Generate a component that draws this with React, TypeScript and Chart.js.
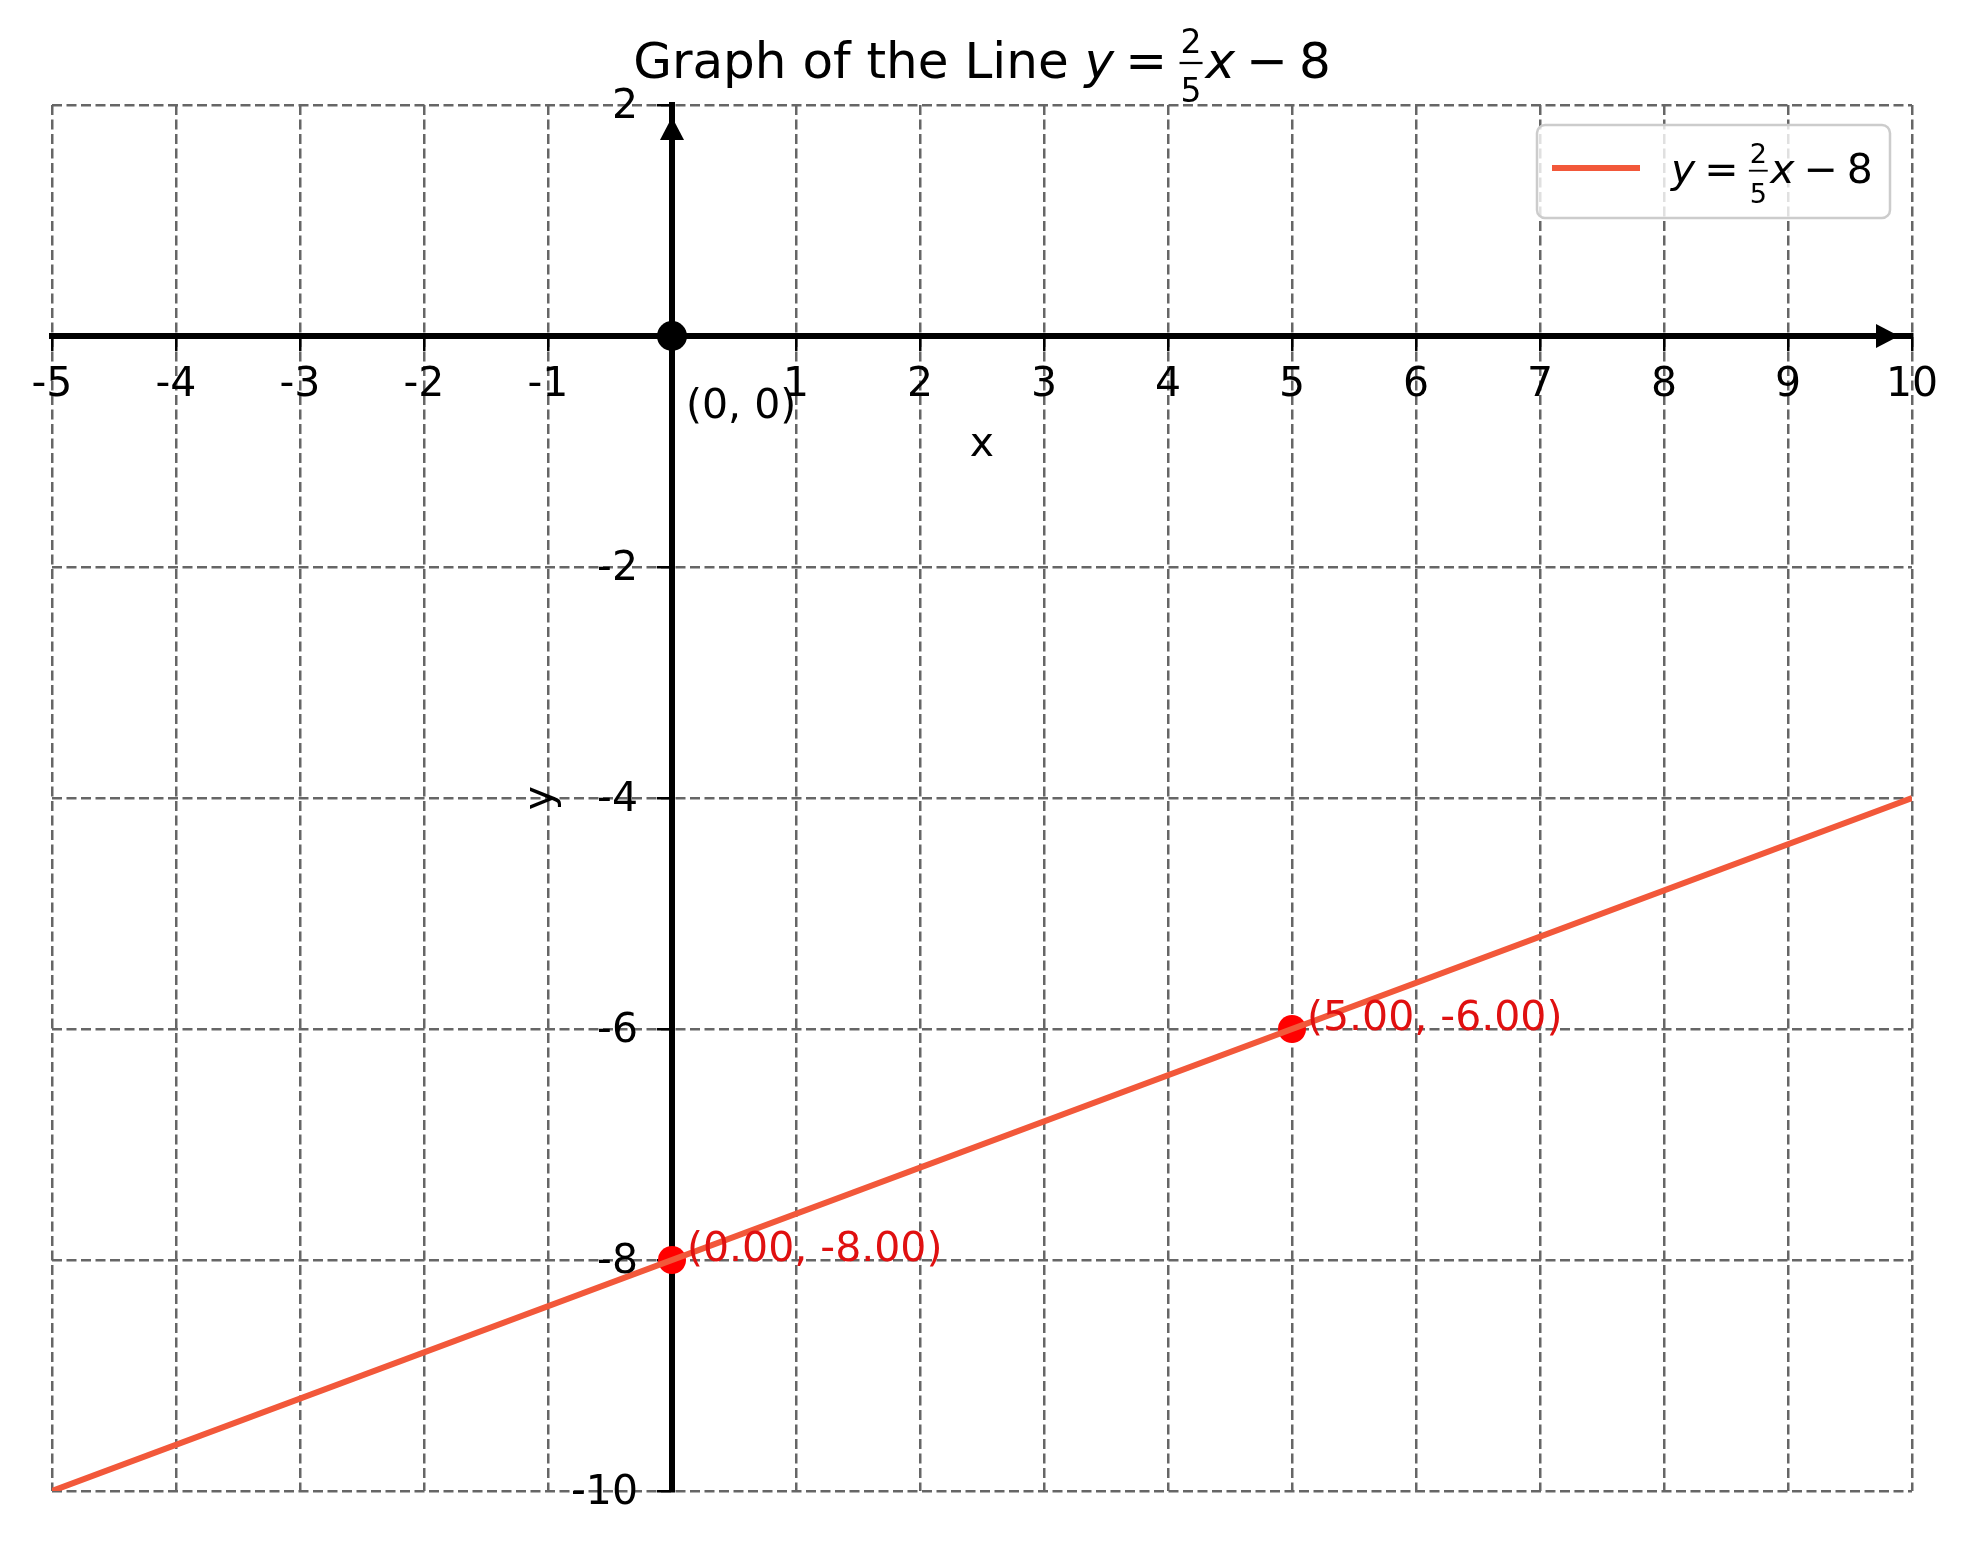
import React, { useEffect, useRef } from 'react';
import { Chart, registerables } from 'chart.js';

Chart.register(...registerables);

// ---- data ----
const xMin = -5;
const xMax = 10;
const yMin = -10;
const yMax = 2;
const xStep = 1;
const yStep = 2;
const lineX = [-5, 10];
const lineY = [-10, -4];
const markedX = [0, 5];
const markedY = [-8, -6];
const markedLabels = ['(0.00, -8.00)', '(5.00, -6.00)'];
const originX = [0];
const originY = [0];
const originLabels = ['(0, 0)'];
const titlePrefix = 'Graph of the Line ';
const slopeNum = '2';
const slopeDen = '5';
const interceptText = '8';
const xAxisLabel = 'x';
const yAxisLabel = 'y';

// ---- styles ----
const FAM = '"DejaVu Sans", "Liberation Sans", sans-serif';
const LINE_COLOR = '#F2583A';
const POINT_COLOR = '#FF0000';
const ANNOT_COLOR = '#E01010';
const GRID_COLOR = '#666666';
const TICK_FONT = 41;

function mathParts(ctx: CanvasRenderingContext2D, size: number) {
  const g = 0.22 * size;
  const small = 0.66 * size;
  ctx.font = `italic ${size}px ${FAM}`;
  const wy = ctx.measureText('y').width;
  const wx = ctx.measureText('x').width;
  ctx.font = `${size}px ${FAM}`;
  const weq = ctx.measureText('=').width;
  const wmin = ctx.measureText('\u2212').width;
  const w8 = ctx.measureText(interceptText).width;
  ctx.font = `${small}px ${FAM}`;
  const wd = Math.max(ctx.measureText(slopeNum).width, ctx.measureText(slopeDen).width);
  const wf = wd + 0.1 * size;
  const total = wy + g + weq + g + wf + 0.03 * size + wx + g + wmin + g + w8;
  return { g, small, wy, wx, weq, wmin, w8, wd, wf, total };
}

function drawMath(ctx: CanvasRenderingContext2D, x0: number, base: number, size: number, color: string) {
  const p = mathParts(ctx, size);
  ctx.save();
  ctx.fillStyle = color;
  ctx.strokeStyle = color;
  ctx.textBaseline = 'alphabetic';
  ctx.textAlign = 'left';
  let x = x0;
  ctx.font = `italic ${size}px ${FAM}`;
  ctx.fillText('y', x, base);
  x += p.wy + p.g;
  ctx.font = `${size}px ${FAM}`;
  ctx.fillText('=', x, base);
  x += p.weq + p.g;
  // fraction
  const cx = x + p.wf / 2;
  ctx.font = `${p.small}px ${FAM}`;
  ctx.textAlign = 'center';
  ctx.fillText(slopeNum, cx, base - 0.5 * size);
  ctx.fillText(slopeDen, cx, base + 0.48 * size);
  ctx.lineWidth = Math.max(1.5, 0.045 * size);
  ctx.beginPath();
  ctx.moveTo(x + 0.03 * size, base - 0.3 * size);
  ctx.lineTo(x + p.wf - 0.03 * size, base - 0.3 * size);
  ctx.stroke();
  ctx.textAlign = 'left';
  x += p.wf + 0.03 * size;
  ctx.font = `italic ${size}px ${FAM}`;
  ctx.fillText('x', x, base);
  x += p.wx + p.g;
  ctx.font = `${size}px ${FAM}`;
  ctx.fillText('\u2212', x, base);
  x += p.wmin + p.g;
  ctx.fillText(interceptText, x, base);
  ctx.restore();
  return p.total;
}

const overlayPlugin = {
  id: 'overlay',
  afterDraw(chart: any) {
    const ctx: CanvasRenderingContext2D = chart.ctx;
    const area = chart.chartArea;
    const xs = chart.scales.x;
    const ys = chart.scales.y;
    const x0 = xs.getPixelForValue(0);
    const y0 = ys.getPixelForValue(0);
    ctx.save();

    // y tick labels, left of the centred y spine
    ctx.font = `${TICK_FONT}px ${FAM}`;
    ctx.fillStyle = '#000';
    ctx.textAlign = 'right';
    ctx.textBaseline = 'middle';
    ys.ticks.forEach((t: any) => {
      if (t.value === 0) return;
      ctx.fillText(String(t.value), x0 - 34, ys.getPixelForValue(t.value) + 2);
    });

    // arrowheads
    ctx.fillStyle = '#000';
    const tipTop = area.top + 12;
    ctx.beginPath();
    ctx.moveTo(x0, tipTop);
    ctx.lineTo(x0 - 12, tipTop + 23);
    ctx.lineTo(x0 + 12, tipTop + 23);
    ctx.closePath();
    ctx.fill();
    const tipRight = area.right - 13;
    ctx.beginPath();
    ctx.moveTo(tipRight, y0);
    ctx.lineTo(tipRight - 23, y0 - 12);
    ctx.lineTo(tipRight - 23, y0 + 12);
    ctx.closePath();
    ctx.fill();

    // annotations of marked points
    const meta1 = chart.getDatasetMeta(1);
    ctx.font = `41px ${FAM}`;
    ctx.fillStyle = ANNOT_COLOR;
    ctx.textAlign = 'left';
    ctx.textBaseline = 'alphabetic';
    meta1.data.forEach((el: any, i: number) => {
      ctx.fillText(markedLabels[i], el.x + 15, el.y + 1);
    });
    const meta2 = chart.getDatasetMeta(2);
    ctx.font = `41px ${FAM}`;
    ctx.fillStyle = '#000';
    meta2.data.forEach((el: any, i: number) => {
      ctx.fillText(originLabels[i], el.x + 14, el.y + 82);
    });

    // axis labels
    const cxArea = (area.left + area.right) / 2;
    const cyArea = (area.top + area.bottom) / 2;
    ctx.font = `41px ${FAM}`;
    ctx.fillStyle = '#000';
    ctx.textAlign = 'center';
    ctx.fillText(xAxisLabel, cxArea, y0 + 120);
    ctx.save();
    ctx.translate(x0 - 131, cyArea);
    ctx.rotate(-Math.PI / 2);
    ctx.textBaseline = 'middle';
    ctx.fillText(yAxisLabel, 0, 0);
    ctx.restore();

    // title
    const tSize = 50;
    ctx.font = `${tSize}px ${FAM}`;
    const wPrefix = ctx.measureText(titlePrefix).width;
    const mp = mathParts(ctx, tSize);
    const tStart = cxArea - (wPrefix + mp.total) / 2;
    const tBase = area.top - 27;
    ctx.font = `${tSize}px ${FAM}`;
    ctx.fillStyle = '#000';
    ctx.textAlign = 'left';
    ctx.textBaseline = 'alphabetic';
    ctx.fillText(titlePrefix, tStart, tBase);
    drawMath(ctx, tStart + wPrefix, tBase, tSize, '#000');

    // legend
    const lx1 = area.right - 375;
    const ly1 = area.top + 20;
    const lw = 353;
    const lh = 93;
    ctx.fillStyle = 'rgba(255,255,255,0.8)';
    ctx.strokeStyle = '#cccccc';
    ctx.lineWidth = 2.5;
    ctx.beginPath();
    (ctx as any).roundRect(lx1, ly1, lw, lh, 8);
    ctx.fill();
    ctx.stroke();
    ctx.strokeStyle = LINE_COLOR;
    ctx.lineWidth = 6;
    ctx.beginPath();
    ctx.moveTo(lx1 + 15, ly1 + 43);
    ctx.lineTo(lx1 + 103, ly1 + 43);
    ctx.stroke();
    drawMath(ctx, lx1 + 134, ly1 + 58, 41, '#000');

    ctx.restore();
  },
};

export default function App() {
  const ref = useRef<HTMLCanvasElement | null>(null);
  useEffect(() => {
    if (!ref.current) return;
    const gridColor = (c: any) => (c.tick && c.tick.value === 0 ? 'rgba(0,0,0,0)' : GRID_COLOR);
    const tickCb = (v: any) => (Number(v) === 0 ? '' : String(v));
    const chart = new Chart(ref.current, {
      type: 'scatter',
      data: {
        datasets: [
          {
            label: 'line',
            data: lineX.map((x, i) => ({ x, y: lineY[i] })),
            showLine: true,
            borderColor: LINE_COLOR,
            backgroundColor: LINE_COLOR,
            borderWidth: 6,
            pointRadius: 0,
            fill: false,
          },
          {
            label: 'marked',
            data: markedX.map((x, i) => ({ x, y: markedY[i] })),
            showLine: false,
            pointRadius: 14,
            pointBackgroundColor: POINT_COLOR,
            pointBorderColor: POINT_COLOR,
            pointBorderWidth: 0,
          },
          {
            label: 'origin',
            data: originX.map((x, i) => ({ x, y: originY[i] })),
            showLine: false,
            pointRadius: 15,
            pointBackgroundColor: '#000',
            pointBorderColor: '#000',
            pointBorderWidth: 0,
          },
        ],
      },
      options: {
        animation: false,
        responsive: false,
        devicePixelRatio: 1,
        events: [],
        layout: { padding: { left: 52, right: 55, top: 105, bottom: 55 } },
        plugins: {
          legend: { display: false },
          title: { display: false },
          tooltip: { enabled: false },
        },
        scales: {
          x: {
            type: 'linear',
            position: { y: 0 } as any,
            min: xMin,
            max: xMax,
            ticks: {
              stepSize: xStep,
              autoSkip: false,
              maxRotation: 0,
              padding: 13,
              color: '#000',
              font: { size: TICK_FONT, family: FAM },
              callback: tickCb,
            },
            grid: {
              color: gridColor,
              lineWidth: 2.5,
              drawTicks: true,
              tickLength: 12,
              tickColor: '#000',
              tickWidth: 2.5,
            },
            border: { display: true, color: '#000', width: 6, dash: [10, 4.5] },
          },
          y: {
            type: 'linear',
            position: { x: 0 } as any,
            min: yMin,
            max: yMax,
            ticks: {
              display: false,
              stepSize: yStep,
              autoSkip: false,
            },
            grid: {
              color: gridColor,
              lineWidth: 2.5,
              drawTicks: true,
              tickLength: 12,
              tickColor: '#000',
              tickWidth: 2.5,
            },
            border: { display: true, color: '#000', width: 6, dash: [10, 4.5] },
          },
        },
      } as any,
      plugins: [overlayPlugin],
    });
    return () => chart.destroy();
  }, []);
  return (
    <div style={{ position: 'absolute', left: 0, top: 0, width: 1967, height: 1546, background: '#fff' }}>
      <canvas ref={ref} width={1967} height={1546} style={{ display: 'block' }} />
    </div>
  );
}
